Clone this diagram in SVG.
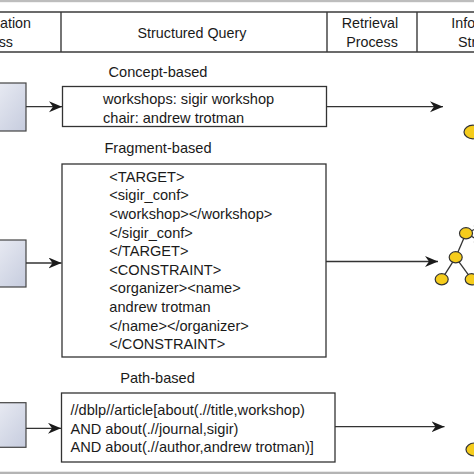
<svg xmlns="http://www.w3.org/2000/svg" width="474" height="474" viewBox="0 0 474 474">
<style>
text{font-family:"Liberation Sans",Arial,sans-serif;fill:#1a1a1a}
.h{font-size:14.3px}
.b{font-size:14.6px}
.box{fill:#fff;stroke:#333;stroke-width:1.3}
.src{fill:url(#g);stroke:#444;stroke-width:1.2}
.ln{stroke:#333;stroke-width:1.3;fill:none}
.hd{stroke:#3a3a3a;stroke-width:1.4;fill:none}
.nd{fill:#f5cc1c;stroke:#333;stroke-width:1.2}
.ed{stroke:#333;stroke-width:1.3}
</style>
<defs>
<linearGradient id="g" x1="0" y1="0" x2="1" y2="1">
<stop offset="0" stop-color="#eceef5"/>
<stop offset="1" stop-color="#c6ccde"/>
</linearGradient>
<marker id="ah" markerUnits="userSpaceOnUse" markerWidth="14" markerHeight="12" refX="13" refY="5.5" orient="auto">
<path d="M0,0 L13,5.5 L0,11 L4,5.5 z" fill="#1a1a1a"/>
</marker>
</defs>
<rect width="474" height="474" fill="#fff"/>
<rect x="0" y="0" width="474" height="2.2" fill="#bdbdbd"/>
<rect x="0" y="471.7" width="474" height="2.3" fill="#b4b4b4"/>

<g id="header">
<line class="hd" x1="0" y1="12" x2="474" y2="12"/>
<line class="hd" x1="0" y1="52" x2="474" y2="52"/>
<line class="hd" x1="61" y1="12" x2="61" y2="52"/>
<line class="hd" x1="327" y1="12" x2="327" y2="52"/>
<line class="hd" x1="417" y1="12" x2="417" y2="52"/>
<text class="h" x="31" y="28" text-anchor="end">Formulation</text>
<text class="h" x="13" y="46.5" text-anchor="end">Process</text>
<text class="h" x="192" y="37.5" text-anchor="middle">Structured Query</text>
<text class="h" x="370" y="28" text-anchor="middle">Retrieval</text>
<text class="h" x="372" y="46.5" text-anchor="middle">Process</text>
<text class="h" x="487" y="28" text-anchor="middle">Information</text>
<text class="h" x="487" y="46.5" text-anchor="middle">Structure</text>
</g>

<g id="src1"><rect class="src" x="-10" y="83" width="36" height="48"/></g>
<g id="src2"><rect class="src" x="-10" y="240" width="36" height="47"/></g>
<g id="src3"><rect class="src" x="-10" y="402.7" width="36" height="44.6"/></g>

<g id="concept">
<text class="b" x="158" y="77" text-anchor="middle">Concept-based</text>
<rect class="box" x="62.5" y="86.5" width="264" height="40"/>
<text class="b" x="103" y="104">workshops: sigir workshop</text>
<text class="b" x="103" y="122.5">chair: andrew trotman</text>
</g>

<g id="fragment">
<text class="b" x="158" y="153" text-anchor="middle">Fragment-based</text>
<rect class="box" x="62" y="164" width="264" height="193"/>
<text class="b" x="109.3" y="181.7">&lt;TARGET&gt;</text>
<text class="b" x="109.3" y="200.3">&lt;sigir_conf&gt;</text>
<text class="b" x="109.3" y="218.9">&lt;workshop&gt;&lt;/workshop&gt;</text>
<text class="b" x="109.3" y="237.5">&lt;/sigir_conf&gt;</text>
<text class="b" x="109.3" y="256.1">&lt;/TARGET&gt;</text>
<text class="b" x="109.3" y="274.7">&lt;CONSTRAINT&gt;</text>
<text class="b" x="109.3" y="293.3">&lt;organizer&gt;&lt;name&gt;</text>
<text class="b" x="109.3" y="311.9">andrew trotman</text>
<text class="b" x="109.3" y="330.5">&lt;/name&gt;&lt;/organizer&gt;</text>
<text class="b" x="109.3" y="349.1">&lt;/CONSTRAINT&gt;</text>
</g>

<g id="path">
<text class="b" x="157.5" y="382.7" text-anchor="middle">Path-based</text>
<rect class="box" x="61.5" y="393" width="273.5" height="69"/>
<text class="b" x="70.5" y="415">//dblp//article[about(.//title,workshop)</text>
<text class="b" x="70.5" y="433.5">AND about(.//journal,sigir)</text>
<text class="b" x="70.5" y="452">AND about(.//author,andrew trotman)]</text>
</g>

<g id="connectors">
<line class="ln" x1="26" y1="106.7" x2="62" y2="106.7" marker-end="url(#ah)"/>
<line class="ln" x1="26" y1="263" x2="61.5" y2="263" marker-end="url(#ah)"/>
<line class="ln" x1="26" y1="428.3" x2="61" y2="428.3" marker-end="url(#ah)"/>
<line class="ln" x1="326.5" y1="106.7" x2="443" y2="106.7" marker-end="url(#ah)"/>
<line class="ln" x1="326" y1="261.5" x2="438" y2="261.5" marker-end="url(#ah)"/>
<line class="ln" x1="335" y1="426.7" x2="444.5" y2="426.7" marker-end="url(#ah)"/>
</g>

<g id="info1"><ellipse class="nd" cx="473" cy="132" rx="9" ry="6.8"/></g>

<g id="info2">
<line class="ed" x1="441.7" y1="279.3" x2="455.7" y2="257.3"/>
<line class="ed" x1="455.7" y1="257.3" x2="471.7" y2="279.3"/>
<line class="ed" x1="455.7" y1="257.3" x2="466" y2="233.3"/>
<line class="ed" x1="466" y1="233.3" x2="482" y2="226"/>
<line class="ed" x1="466" y1="233.3" x2="482" y2="242"/>
<ellipse class="nd" cx="482" cy="226" rx="7.5" ry="5.8"/>
<ellipse class="nd" cx="482" cy="242" rx="7.5" ry="5.8"/>
<ellipse class="nd" cx="466" cy="233.3" rx="6.5" ry="5.6"/>
<ellipse class="nd" cx="455.7" cy="257.3" rx="6.5" ry="5.6"/>
<ellipse class="nd" cx="441.7" cy="279.3" rx="6.5" ry="5.6"/>
<ellipse class="nd" cx="471.7" cy="279.3" rx="6.5" ry="5.6"/>
</g>

<g id="info3"><ellipse class="nd" cx="474.5" cy="449.5" rx="8.5" ry="6.5"/></g>
</svg>
